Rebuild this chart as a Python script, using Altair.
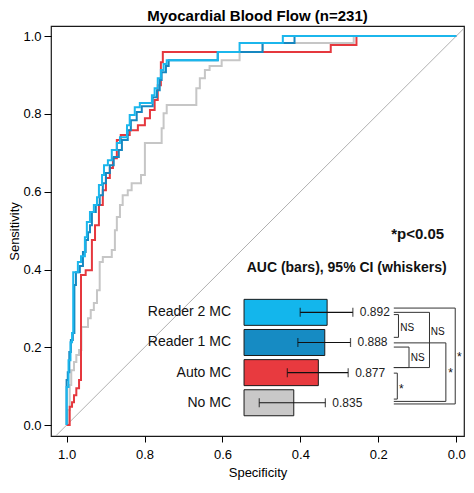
import altair as alt
import pandas as pd

# ---------------- ROC curves (step corners: specificity, sensitivity) ----------------
nomc_spec = [1.000,0.997,0.992,0.988,0.981,0.975,0.968,0.962,0.945,0.938,0.930,0.922,0.915,0.907,0.884,0.876,0.871,0.863,0.856,0.843,0.833,0.809,0.799,0.756,0.751,0.743,0.667,0.658,0.645,0.633,0.602,0.556,0.497,0.263,0.000]
nomc_sens = [0.000,0.000,0.039,0.103,0.141,0.162,0.180,0.193,0.252,0.275,0.296,0.314,0.347,0.419,0.432,0.450,0.501,0.535,0.566,0.591,0.604,0.622,0.643,0.725,0.763,0.802,0.823,0.866,0.892,0.913,0.923,0.938,0.959,0.982,1.000]

auto_spec = [1.000,0.992,0.986,0.981,0.975,0.968,0.963,0.951,0.935,0.927,0.917,0.907,0.899,0.889,0.881,0.871,0.861,0.838,0.817,0.799,0.786,0.774,0.766,0.758,0.753,0.322,0.256,0.000]
auto_sens = [0.000,0.000,0.047,0.059,0.077,0.095,0.116,0.386,0.398,0.476,0.514,0.566,0.604,0.635,0.661,0.686,0.733,0.746,0.758,0.771,0.789,0.810,0.836,0.874,0.933,0.959,0.977,1.000]

r1_spec = [1.000,0.997,0.993,0.989,0.984,0.980,0.976,0.966,0.958,0.951,0.945,0.940,0.935,0.925,0.915,0.907,0.899,0.889,0.879,0.866,0.858,0.843,0.835,0.820,0.807,0.779,0.768,0.761,0.756,0.745,0.738,0.612,0.497,0.415,0.000]
r1_sens = [0.000,0.116,0.136,0.188,0.219,0.237,0.360,0.393,0.409,0.445,0.476,0.496,0.514,0.548,0.566,0.591,0.622,0.648,0.668,0.689,0.707,0.733,0.758,0.784,0.805,0.820,0.843,0.861,0.887,0.907,0.923,0.938,0.959,0.982,1.000]

r2_spec = [1.000,0.995,0.990,0.986,0.983,0.971,0.963,0.953,0.948,0.940,0.930,0.922,0.917,0.909,0.904,0.894,0.884,0.871,0.863,0.845,0.838,0.825,0.812,0.781,0.774,0.766,0.758,0.751,0.743,0.612,0.556,0.445,0.000]
r2_sens = [0.000,0.098,0.167,0.213,0.237,0.393,0.419,0.434,0.483,0.522,0.548,0.566,0.586,0.617,0.643,0.668,0.681,0.707,0.725,0.740,0.771,0.797,0.817,0.828,0.848,0.866,0.892,0.913,0.928,0.938,0.959,0.982,1.000]

diag_spec = [1.06, -0.06]
diag_sens = [-0.06, 1.06]

# ---------------- inset: AUC bars with 95% CI ----------------
methods = ["Reader 2 MC", "Reader 1 MC", "Auto MC", "No MC"]
bar_rows = [0, 1, 2, 3]
auc = [0.892, 0.888, 0.877, 0.835]
ci_lo = [0.846, 0.842, 0.824, 0.776]
ci_hi = [0.936, 0.932, 0.928, 0.889]
bar_base = 0.75

bar_colors = ["#13B6EC", "#168BC3", "#E83A3F", "#C9C8C8"]
line_colors = {"No MC": "#C6C6C6", "Auto MC": "#E5383E", "Reader 1 MC": "#1687C0", "Reader 2 MC": "#1BB6EC"}

# significance brackets: left start, vertical x, top row, bottom row
br_left = 1.006
br_vx = [1.014, 1.032, 1.067, 1.012, 1.095, 1.111]
br_top = [0.074, 1.152, 0.000, 2.017, 1.013, -0.142]
br_bot = [0.829, 1.832, 1.832, 2.878, 2.955, 3.040]

ns_x = [1.017, 1.035, 1.069]
ns_y = [0.505, 1.525, 0.667]
star_x = [1.015, 1.099, 1.114]
star_y = [2.545, 2.010, 1.476]

note_x = [1.092, 0.7545]
note_y = [-2.60, -1.47]
note_text = ["*p<0.05", "AUC (bars), 95% CI (whiskers)"]

FONT = "Liberation Sans"

# ---------------- scales ----------------
xs = alt.Scale(domain=[-0.02, 1.04], reverse=True, nice=False, zero=False)
ys = alt.Scale(domain=[-0.028, 1.026], nice=False, zero=False)
xi = alt.Scale(domain=[0.420, 1.126], nice=False, zero=False)
yi = alt.Scale(domain=[-9.336, 3.937], reverse=True, nice=False, zero=False)

ticks = [0, 0.2, 0.4, 0.6, 0.8, 1.0]
x_axis = alt.Axis(values=ticks, format=".1f", title="Specificity", domain=False, grid=False,
                  tickSize=6, labelPadding=6, titlePadding=5, labelFlush=False, labelOverlap=False)
y_axis = alt.Axis(values=ticks, format=".1f", title="Sensitivity", domain=False, grid=False,
                  tickSize=7, labelPadding=3, labelFlush=False, labelOverlap=False,
                  titleAngle=270, titleBaseline="bottom", titleX=-30, titleY=205)

diag = alt.Chart(pd.DataFrame({"spec": diag_spec, "sens": diag_sens})).mark_line(
    color="#B0B0B0", strokeWidth=1, clip=True
).encode(x=alt.X("spec:Q", scale=xs, axis=x_axis), y=alt.Y("sens:Q", scale=ys, axis=y_axis))


def roc_layer(name, spec, sens):
    df = pd.DataFrame({"spec": spec, "sens": sens, "idx": list(range(len(spec)))})
    return alt.Chart(df).mark_line(
        interpolate="step-before", strokeWidth=2, color=line_colors[name]
    ).encode(
        x=alt.X("spec:Q", scale=xs, axis=x_axis),
        y=alt.Y("sens:Q", scale=ys, axis=y_axis),
        order="idx:Q",
    )


main = alt.layer(
    diag,
    roc_layer("No MC", nomc_spec, nomc_sens),
    roc_layer("Auto MC", auto_spec, auto_sens),
    roc_layer("Reader 1 MC", r1_spec, r1_sens),
    roc_layer("Reader 2 MC", r2_spec, r2_sens),
)

bar_df = pd.DataFrame({
    "method": methods, "row": bar_rows, "auc": auc, "lo": ci_lo, "hi": ci_hi,
    "base": [bar_base] * len(methods),
    "lab": [f"{v:.3f}" for v in auc],
})

XI = lambda f: alt.X(f, type="quantitative", scale=xi, axis=None)
YI = lambda f: alt.Y(f, type="quantitative", scale=yi, axis=None)

bars = alt.Chart(bar_df).mark_bar(orient="horizontal", size=26, stroke="#1a1a1a", strokeWidth=1).encode(
    x=XI("auc"), x2=alt.X2("base"), y=YI("row"),
    color=alt.Color("method:N", scale=alt.Scale(domain=methods, range=bar_colors), legend=None),
)
whisk = alt.Chart(bar_df).mark_rule(color="#111111", strokeWidth=1.2).encode(
    x=XI("lo"), x2=alt.X2("hi"), y=YI("row"))
cap_lo = alt.Chart(bar_df).mark_tick(orient="vertical", size=9, thickness=1.2, color="#111111").encode(
    x=XI("lo"), y=YI("row"))
cap_hi = alt.Chart(bar_df).mark_tick(orient="vertical", size=9, thickness=1.2, color="#111111").encode(
    x=XI("hi"), y=YI("row"))
val_lab = alt.Chart(bar_df).mark_text(align="left", baseline="middle", dx=7, fontSize=12, font=FONT, color="#222222").encode(
    x=XI("hi"), y=YI("row"), text="lab:N")
cat_lab = alt.Chart(bar_df).mark_text(align="right", baseline="middle", dx=-13, fontSize=14, font=FONT, color="#111111").encode(
    x=XI("base"), y=YI("row"), text="method:N")

segs = []
for vx, t, b in zip(br_vx, br_top, br_bot):
    segs.append({"x1": br_left, "x2": vx, "y1": t, "y2": t})
    segs.append({"x1": vx, "x2": vx, "y1": t, "y2": b})
    segs.append({"x1": br_left, "x2": vx, "y1": b, "y2": b})
seg_df = pd.DataFrame(segs)
brackets = alt.Chart(seg_df).mark_rule(color="#333333", strokeWidth=1).encode(
    x=XI("x1"), x2=alt.X2("x2"), y=YI("y1"), y2=alt.Y2("y2"))

ns = alt.Chart(pd.DataFrame({"x": ns_x, "y": ns_y, "t": ["NS"] * len(ns_x)})).mark_text(
    align="left", baseline="middle", fontSize=10, font=FONT, color="#111111").encode(
    x=XI("x"), y=YI("y"), text="t:N")
stars = alt.Chart(pd.DataFrame({"x": star_x, "y": star_y, "t": ["*"] * len(star_x)})).mark_text(
    align="left", baseline="middle", fontSize=12, font=FONT, color="#111111").encode(
    x=XI("x"), y=YI("y"), text="t:N")

note1 = alt.Chart(pd.DataFrame({"x": [note_x[0]], "y": [note_y[0]], "t": [note_text[0]]})).mark_text(
    align="right", baseline="middle", fontSize=15, fontWeight="bold", font=FONT, color="#111111").encode(
    x=XI("x"), y=YI("y"), text="t:N")
note2 = alt.Chart(pd.DataFrame({"x": [note_x[1]], "y": [note_y[1]], "t": [note_text[1]]})).mark_text(
    align="left", baseline="middle", fontSize=14, fontWeight="bold", font=FONT, color="#111111").encode(
    x=XI("x"), y=YI("y"), text="t:N")

inset = alt.layer(bars, whisk, cap_lo, cap_hi, val_lab, cat_lab, brackets, ns, stars, note1, note2)

chart = alt.layer(main, inset).resolve_scale(
    x="independent", y="independent", color="independent"
).properties(
    width=413, height=410,
    title=alt.TitleParams(text="Myocardial Blood Flow (n=231)", fontSize=15, fontWeight="bold",
                          font=FONT, color="black", anchor="middle", offset=2),
    autosize=alt.AutoSizeParams(type="none"),
    padding={"left": 43, "top": 18, "right": 2, "bottom": 48},
).configure(font=FONT, background="white").configure_axis(
    labelFont=FONT, titleFont=FONT, labelFontSize=13, titleFontSize=13, titleFontWeight="normal",
    labelColor="black", titleColor="black", tickColor="black", tickWidth=1,
).configure_view(stroke="#1a1a1a", strokeWidth=1.2)

chart.save("out.html", embed_options={"renderer": "svg", "actions": False})
